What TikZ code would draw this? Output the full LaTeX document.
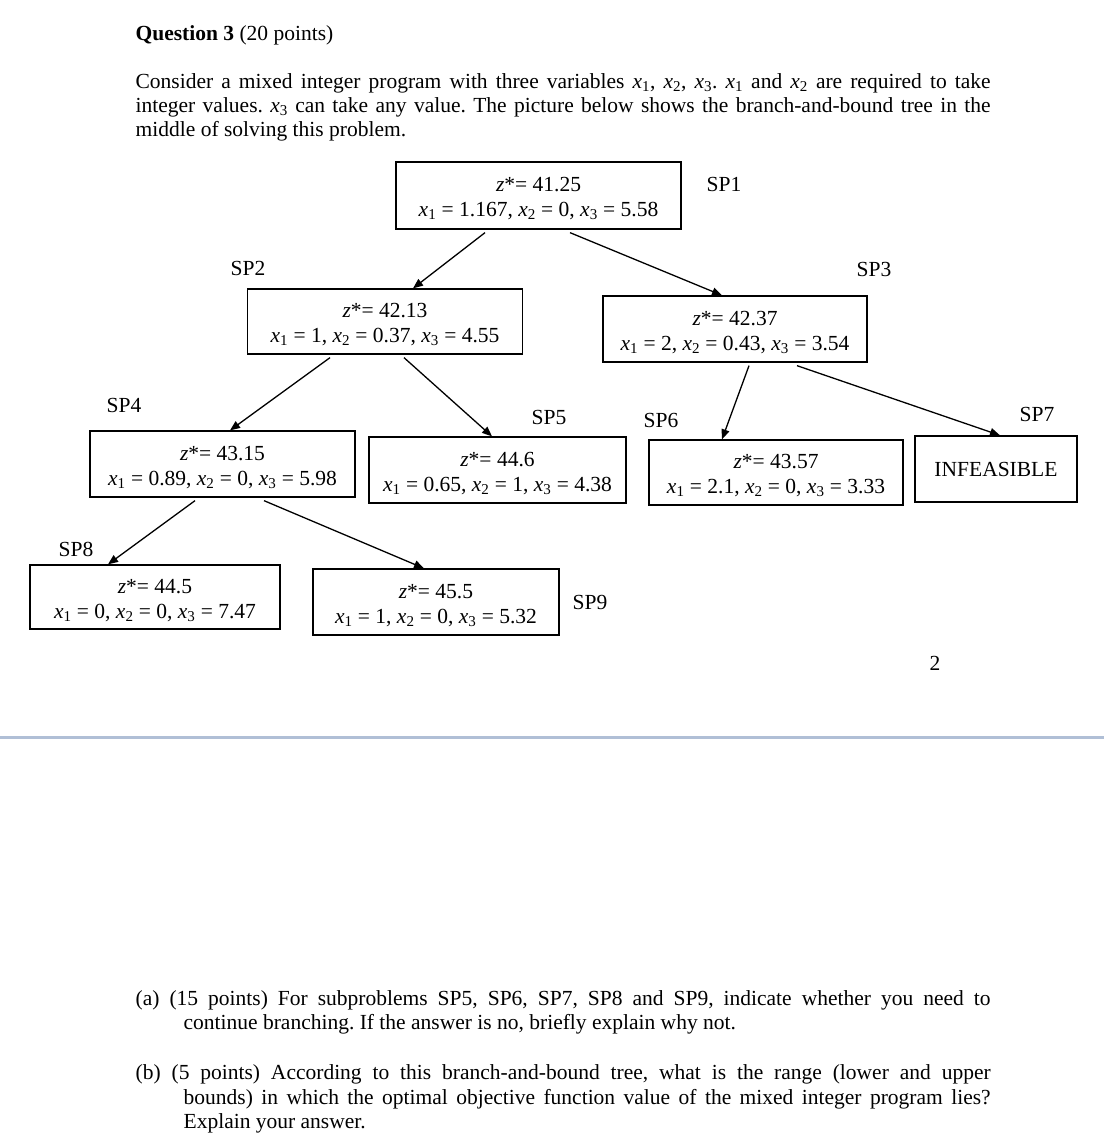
\documentclass[tikz,border=0pt]{standalone}
\usepackage{fontspec}
\setmainfont{Liberation Serif}
\usetikzlibrary{arrows.meta}
\definecolor{rulecol}{RGB}{176,191,214}
\newcommand{\xs}[1]{\textit{x}\textsubscript{#1}}
\newcommand{\zs}{\rule{0pt}{20.5pt}\textit{z}*=}
\frenchspacing

\begin{document}
\begin{tikzpicture}[x=1pt,y=-1pt,line width=1.3pt,>={Triangle[length=10pt,width=8pt]},
  font=\fontsize{21.5}{25}\selectfont,
  lbl/.style={inner sep=0pt},
  txt/.style={inner sep=0pt,anchor=base west},
  bbox/.style={draw,line width=1.3pt,inner sep=0pt,align=center}]
\useasboundingbox (0,0) rectangle (1104,1138);
\fill[white] (0,0) rectangle (1104,1138);
\def\w{855pt} % text width
% ---- question text ----
\node[txt] (q) at (135,40) {\textbf{Question 3} (20 points)};
\node[txt] (p1) at (135,88) {\makebox[\w][s]{Consider a mixed integer program with three variables \xs1, \xs2, \xs3. \xs1 and \xs2 are required to take}};
\node[txt] (p2) at (135,112) {\makebox[\w][s]{integer values. \xs3 can take any value. The picture below shows the branch-and-bound tree in the}};
\node[txt] (p3) at (135,136) {middle of solving this problem.};
% ---- subproblem boxes ----
\node[bbox,minimum width=285pt,minimum height=67pt] (sp1) at (538.5,195.5) {\zs{} 41.25\\\xs1 = 1.167, \xs2 = 0, \xs3 = 5.58};
\node[bbox,minimum width=275pt,minimum height=65pt] (sp2) at (385,321.5) {\zs{} 42.13\\\xs1 = 1, \xs2 = 0.37, \xs3 = 4.55};
\node[bbox,minimum width=264pt,minimum height=66pt] (sp3) at (735,329) {\zs{} 42.37\\\xs1 = 2, \xs2 = 0.43, \xs3 = 3.54};
\node[bbox,minimum width=265pt,minimum height=66pt] (sp4) at (222.5,464) {\zs{} 43.15\\\xs1 = 0.89, \xs2 = 0, \xs3 = 5.98};
\node[bbox,minimum width=257pt,minimum height=66pt] (sp5) at (497.5,470) {\zs{} 44.6\\\xs1 = 0.65, \xs2 = 1, \xs3 = 4.38};
\node[bbox,minimum width=254pt,minimum height=65pt] (sp6) at (776,472.5) {\zs{} 43.57\\\xs1 = 2.1, \xs2 = 0, \xs3 = 3.33};
\node[bbox,minimum width=162pt,minimum height=66pt] (sp7) at (996,469) {INFEASIBLE};
\node[bbox,minimum width=250pt,minimum height=64pt] (sp8) at (155,597) {\zs{} 44.5\\\xs1 = 0, \xs2 = 0, \xs3 = 7.47};
\node[bbox,minimum width=246pt,minimum height=66pt] (sp9) at (436,602) {\zs{} 45.5\\\xs1 = 1, \xs2 = 0, \xs3 = 5.32};
% ---- labels ----
\foreach \n/\x/\y in {1/724/184,2/248/268,3/874/269,4/124/405,5/549/417,6/661/420,7/1037/414,8/76/549,9/590/602}
  \node[lbl] (l\n) at (\x,\y) {SP\n};
% ---- branches ----
\foreach \a/\sa/\b/\sb in {sp1/-53.5/sp2/28,sp1/31.5/sp3/-13,sp2/-55/sp4/7.5,sp2/19/sp5/-5.5,
  sp3/14/sp6/-54,sp3/62/sp7/4,sp4/-27.5/sp8/-47,sp4/41.5/sp9/-12}
  \draw[->] ([xshift=\sa pt,yshift=-3pt]\a.south) -- ([xshift=\sb pt]\b.north);
\node[lbl] (pg) at (935,663) {2};
% ---- page break rule ----
\draw[rulecol,line width=3pt] (0,737.5) coordinate (r0) -- (1104,737.5) coordinate (r1);
% ---- parts ----
\node[txt] (a1) at (135,1005) {\makebox[\w][s]{(a) (15 points) For subproblems SP5, SP6, SP7, SP8 and SP9, indicate whether you need to}};
\node[txt] (a2) at (183,1029) {continue branching. If the answer is no, briefly explain why not.};
\node[txt] (b1) at (135,1079) {\makebox[\w][s]{(b) (5 points) According to this branch-and-bound tree, what is the range (lower and upper}};
\node[txt] (b2) at (183,1104) {\makebox[807pt][s]{bounds) in which the optimal objective function value of the mixed integer program lies?}};
\node[txt] (b3) at (183,1128) {Explain your answer.};
\end{tikzpicture}
\end{document}
